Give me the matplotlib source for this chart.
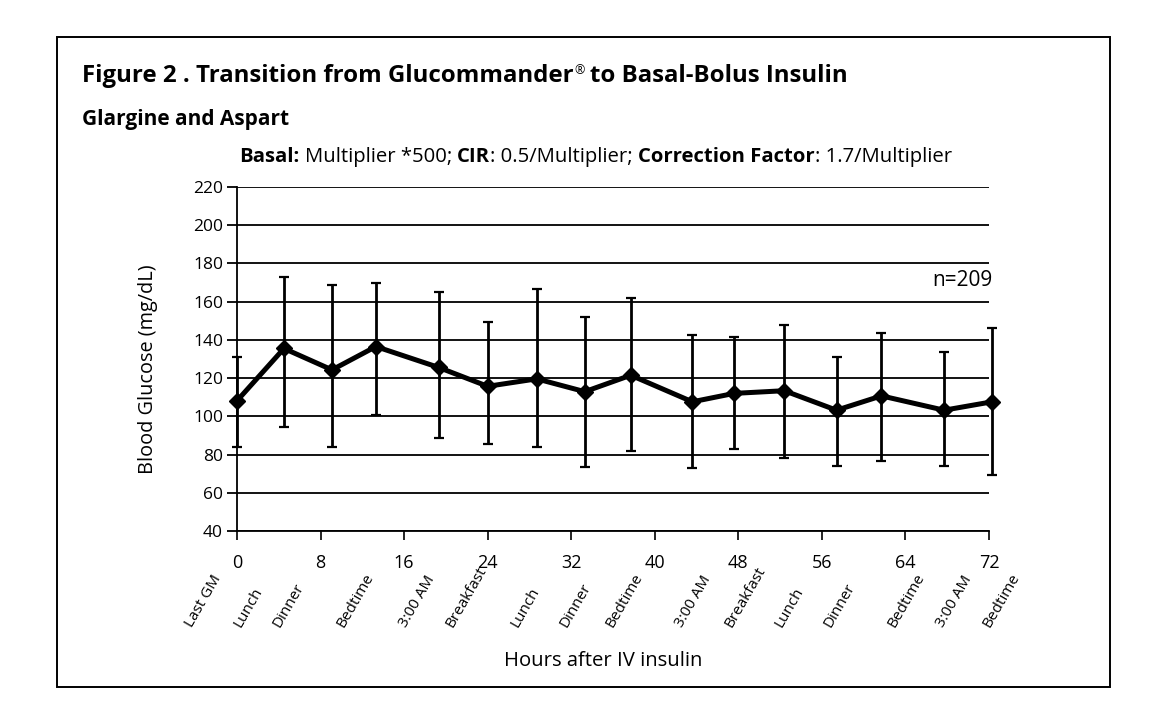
import matplotlib
matplotlib.use("Agg")
import matplotlib.pyplot as plt
import matplotlib.transforms as mtransforms
from matplotlib.patches import Rectangle

plt.rcParams["font.family"] = ["Open Sans", "DejaVu Sans"]

#=================
# data
#=================
hours = [0, 4.5, 9.1, 13.3, 19.3, 24.0, 28.7, 33.3, 37.7, 43.6, 47.6, 52.4, 57.4, 61.7, 67.7, 72.3]
glucose_mean = [108.1, 135.5, 124.3, 136.5, 125.6, 115.7, 119.6, 112.9,
                121.5, 107.6, 112.0, 113.4, 103.2, 110.7, 103.2, 107.6]
glucose_upper = [130.8, 172.8, 168.8, 170.0, 164.9, 149.2, 166.4, 152.0,
                 161.9, 142.8, 141.5, 147.7, 130.9, 143.6, 133.4, 146.4]
glucose_lower = [84.1, 94.5, 84.1, 100.7, 88.7, 85.7, 83.8, 73.7,
                 82.0, 73.0, 83.0, 78.2, 74.1, 76.4, 74.1, 69.4]
meal_labels = ["Last GM", "Lunch", "Dinner", "Bedtime", "3:00 AM", "Breakfast",
               "Lunch", "Dinner", "Bedtime", "3:00 AM", "Breakfast", "Lunch",
               "Dinner", "Bedtime", "3:00 AM", "Bedtime"]
x_ticks = [0, 8, 16, 24, 32, 40, 48, 56, 64, 72]
y_ticks = [40, 60, 80, 100, 120, 140, 160, 180, 200, 220]

# where the slanted meal labels start (hours on the x axis)
label_hours = [-5.1, -0.4, 3.3, 9.4, 15.4, 19.9, 26.1, 30.8,
               35.2, 41.8, 46.6, 51.4, 56.1, 62.2, 66.8, 71.3]

yerr = [
    [m - lo for m, lo in zip(glucose_mean, glucose_lower)],
    [hi - m for m, hi in zip(glucose_mean, glucose_upper)],
]

#=================
# figure
#=================
fig = plt.figure(figsize=(11.76, 7.25), dpi=100)
ax = fig.add_axes([0.2015, 0.2676, 0.6395, 0.4745])

ax.errorbar(hours, glucose_mean, yerr=yerr, fmt="none", ecolor="black",
            elinewidth=2.0, capsize=3.3, capthick=1.6, zorder=3, clip_on=False)
ax.plot(hours, glucose_mean, color="black", lw=3.6, marker="D", ms=8.5,
        zorder=4, clip_on=False)

ax.set_xlim(0, 72)
ax.set_ylim(40, 220)
ax.set_xticks(x_ticks)
ax.set_yticks(y_ticks)
ax.tick_params(axis="y", length=7, width=1.3, pad=3, labelsize=12.5)
ax.tick_params(axis="x", length=6.5, width=1.2, pad=10, labelsize=13)
ax.grid(axis="y", color="black", lw=1.3)
ax.set_axisbelow(True)
for side in ["top", "right"]:
    ax.spines[side].set_visible(False)
ax.spines["left"].set_linewidth(1.3)
ax.spines["bottom"].set_linewidth(1.3)

# slanted meal labels under the hour ticks
trans = mtransforms.blended_transform_factory(ax.transData, ax.transAxes)
trans = trans + mtransforms.ScaledTranslation(0.08, 0, fig.dpi_scale_trans)
for h, lab in zip(label_hours, meal_labels):
    ax.text(h, -0.282, lab, transform=trans, rotation=60, rotation_mode="anchor",
            ha="left", va="baseline", fontsize=11, clip_on=False)

ax.text(1.005, 0.727, "n=209", transform=ax.transAxes, ha="right", va="center",
        fontsize=15)

fig.text(0.126, 0.4903, "Blood Glucose (mg/dL)", rotation=90, ha="center",
         va="center", fontsize=14.3)
fig.text(0.513, 0.0883, "Hours after IV insulin", ha="center", va="center",
         fontsize=14.6)

#=================
# titles
#=================
t1 = fig.text(0.0697, 0.8865, "Figure 2 . Transition from Glucommander", fontsize=17.3,
              fontweight="bold", ha="left", va="baseline")
reg = fig.add_artist(plt.Annotation("®", xy=(1, 0.45), xycoords=t1, xytext=(0.5, 0),
                                    textcoords="offset points", fontsize=9,
                                    ha="left", va="bottom"))
fig.add_artist(plt.Annotation("to Basal-Bolus Insulin", xy=(1, 0), xycoords=(reg, t1),
                              xytext=(4.2, 0), textcoords="offset points",
                              fontsize=17.3, fontweight="bold", ha="left", va="bottom"))

fig.text(0.0697, 0.8276, "Glargine and Aspart", fontsize=15, fontweight="bold",
         ha="left", va="baseline")

pieces = [("Basal:", "bold", 0), ("Multiplier *500;", "normal", 3.8),
          ("CIR", "bold", 3.8), (": 0.5/Multiplier;", "normal", 0),
          ("Correction Factor", "bold", 3.8), (": 1.7/Multiplier", "normal", 0)]
prev = fig.text(0.2035, 0.777, pieces[0][0], fontsize=14.6, fontweight=pieces[0][1],
                ha="left", va="baseline")
for txt, weight, gap in pieces[1:]:
    prev = fig.add_artist(plt.Annotation(txt, xy=(1, 0), xycoords=prev,
                                         xytext=(gap, 0), textcoords="offset points",
                                         fontsize=14.6, fontweight=weight,
                                         ha="left", va="bottom"))

fig.add_artist(Rectangle((0.0485, 0.0524), 0.8954, 0.8966, transform=fig.transFigure,
                         fill=False, edgecolor="black", lw=1.4))

fig.savefig("out.png", dpi=100)
